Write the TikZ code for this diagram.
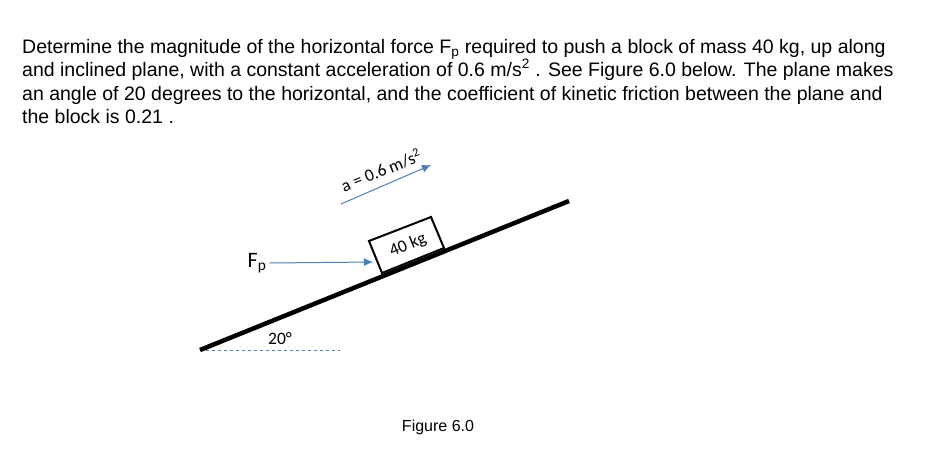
\documentclass[tikz,border=0pt]{standalone}
\usepackage{fontspec}
\setmainfont{Liberation Sans}
\newfontfamily\calib{Carlito}
\begin{document}
\begin{tikzpicture}[x=1pt,y=-1pt,
 para/.style={anchor=base west,inner sep=0pt,font=\fontsize{19.5}{23}\selectfont},
 blu/.style={draw={rgb,255:red,74;green,126;blue,187},line width=1pt,-{Latex[length=9pt,width=8pt]}},
 cal/.style={font=\calib\fontsize{17.5}{20}\selectfont,inner sep=0pt}]
\usetikzlibrary{arrows.meta}
\path[use as bounding box] (0,0) rectangle (931,460);
\node[para] (l1) at (22,53) {Determine the magnitude of the horizontal force F\textsubscript{p} required to push a block of mass 40 kg, up along};
\node[para] (l2) at (22,76.5) {and inclined plane, with a constant acceleration of 0.6 m/s\textsuperscript{2} . See Figure 6.0 below. The plane makes};
\node[para] (l3) at (22,100) {an angle of 20 degrees to the horizontal, and the coefficient of kinetic friction between the plane and};
\node[para] (l4) at (22,123.5) {the block is 0.21 .};
\coordinate (p0) at (200,350);
\coordinate (p1) at (569,201);
\draw[dashed,draw={rgb,255:red,74;green,126;blue,187},line width=0.8pt] (p0) -- (340,350);
\draw[line width=4.5pt] (p0) -- (p1);
\draw[line width=2pt,fill=white] (382,273) -- (444,248) -- (431,217) -- (369,241) -- cycle;
\node[cal,rotate=22] (blk) at (408,245) {40 kg};
\node[cal,font=\calib\fontsize{22}{24}\selectfont] (fp) at (257,263) {F\textsubscript{p}};
\coordinate (fpe) at (373,262);
\draw[blu] (fp.east)++(3,0) coordinate (fps) -- (fpe);
\coordinate (a0) at (341,204);
\coordinate (a1) at (431,165);
\draw[blu] (a0) -- (a1);
\node[cal,rotate=22] (al) at (381,170) {a = 0.6 m/s\textsuperscript{2}};
\node[cal] (ang) at (280,339) {20°};
\node[inner sep=0pt,font=\fontsize{16}{18}\selectfont] (cap) at (438,427) {Figure 6.0};
\end{tikzpicture}
\end{document}
